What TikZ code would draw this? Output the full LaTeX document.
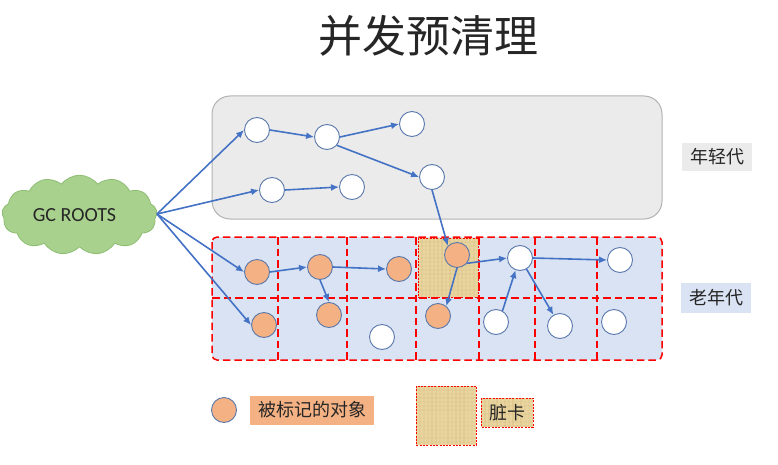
\documentclass[tikz,border=0pt]{standalone}
\usepackage{fontspec}
\usetikzlibrary{shapes.symbols,arrows.meta}
\newfontfamily\cjk{Noto Sans CJK SC}
\newfontfamily\latinfont{Carlito}
\definecolor{linkblue}{HTML}{4472C4}
\definecolor{ringblue}{HTML}{5A78AC}
\definecolor{oldblue}{HTML}{DAE3F3}
\definecolor{markorange}{HTML}{F4B183}
\definecolor{cardtan}{HTML}{E9D5A0}
\definecolor{cardgrain}{HTML}{D2B576}
\definecolor{cloudgreen}{HTML}{A9D18E}
\definecolor{cloudline}{HTML}{8DBD72}
\newcommand{\figuresize}{1pt}
\newcommand{\makecard}[4]{
	\begin{scope}
	\clip (#1,#2) rectangle (#3,#4);
	\fill[cardtan] (#1,#2) rectangle (#3,#4);
	\foreach \i in {0,4,...,60} {
		\pgfmathsetmacro{\grainx}{0.05+0.25*rnd}
		\pgfmathsetmacro{\grainy}{0.03+0.15*rnd}
		\draw[cardgrain, line width=2pt, opacity=\grainx] (#1+\i,#2) -- (#1+\i,#4);
		\draw[cardgrain, line width=2pt, opacity=\grainy] (#1,#2+\i) -- (#3,#2+\i);
	}
	\end{scope}
	\draw[cardline] (#1,#2) rectangle (#3,#4);
}
\tikzset{
	obj/.style={circle, draw=ringblue, line width=0.9pt, fill=white, minimum size=25pt, inner sep=0pt},
	marked/.style={obj, fill=markorange},
	link/.style={draw=linkblue, line width=1.6pt, -{Latex[length=8pt,width=7pt]}},
	celline/.style={draw=red, line width=1.5pt, dash pattern=on 7.5pt off 4pt},
	cardline/.style={draw=red, line width=0.8pt, dash pattern=on 2pt off 1.3pt},
	tag/.style={font=\cjk\fontsize{18}{20}\selectfont, inner sep=0pt, text=black!85},
}

\begin{document}
\begin{tikzpicture}[x=\figuresize,y=-\figuresize]
	\useasboundingbox (0,0) rectangle (778,465);
	\node[font=\cjk\fontsize{44}{50}\selectfont, text=black!85] (title) at (428,36) {并发预清理};

	% young and old areas
	\draw[rounded corners=18pt, fill=black!8, draw=black!30, line width=1pt] (212,96) rectangle (662,219);
	\fill[rounded corners=5pt, oldblue] (212,237) rectangle (662,360);
	\makecard{418}{238}{478}{297}
	\draw[celline, rounded corners=5pt] (212,237) rectangle (662,360);
	\draw[celline] (212,298) -- (662,298);
	\foreach \cellx in {278,347,416,479,535,597} {
		\draw[celline] (\cellx,237) -- (\cellx,360);
	}

	\node[cloud, cloud puffs=13, cloud puff arc=105, aspect=2, draw=cloudline, fill=cloudgreen, line width=0.8pt, minimum width=155pt, minimum height=79pt, inner sep=0pt, font=\latinfont\fontsize{20}{22}\selectfont, text=black!85] (roots) at (79.5,215) {GC ROOTS\kern10pt};

	\node[obj] (Y1) at (257,130) {};
	\node[obj] (Y2) at (327,137) {};
	\node[obj] (Y3) at (412,124) {};
	\node[obj] (Y4) at (432,177) {};
	\node[obj] (Y5) at (272,190) {};
	\node[obj] (Y6) at (352,187) {};

	\node[marked] (M1) at (257,272) {};
	\node[marked] (M2) at (320,267) {};
	\node[marked] (M3) at (399,269) {};
	\node[marked] (M4) at (457,255) {};
	\node[marked] (M5) at (264,325) {};
	\node[marked] (M6) at (329,315) {};
	\node[marked] (M7) at (438,316) {};

	\node[obj] (O1) at (382,337) {};
	\node[obj] (O2) at (520,258) {};
	\node[obj] (O3) at (620,260) {};
	\node[obj] (O4) at (496,322) {};
	\node[obj] (O5) at (560,326) {};
	\node[obj] (O6) at (614,322) {};

	\coordinate (rootsout) at (157,214);
	\draw[link] (rootsout) -- (Y1.west);
	\draw[link] (rootsout) -- (Y5.west);
	\draw[link] (rootsout) -- (M1.west);
	\draw[link] (rootsout) -- (M5.west);
	\draw[link] (Y1.east) -- (Y2.west);
	\draw[link] (Y2.east) -- (Y3.west);
	\draw[link] (Y2.-40) -- (Y4.west);
	\draw[link] (Y5.east) -- (Y6.west);
	\draw[link] (Y4.south) -- (M4.135);
	\draw[link] (M1.east) -- (M2.west);
	\draw[link] (M2.east) -- (M3.west);
	\draw[link] (M2.south) -- (M6.north);
	\draw[link] (M4.south) -- (M7.50);
	\draw[link] (M4.-40) -- (O2.west);
	\draw[link] (O2.east) -- (O3.west);
	\draw[link] (O4.60) -- (O2.-110);
	\draw[link] (O2) -- (O5);

	\node[tag, fill=black!8, minimum width=70pt, minimum height=28pt] (younglabel) at (717,157) {年轻代};
	\node[tag, fill=oldblue, minimum width=70pt, minimum height=30pt] (oldlabel) at (716,298) {老年代};

	% legend
	\node[marked] (legendobj) at (224,410) {};
	\node[tag, fill=markorange, minimum width=124pt, minimum height=29pt] (legendmark) at (312,410) {被标记的对象};
	\makecard{416}{386}{476}{445}
	\makecard{481}{398}{533}{427}
	\node[tag] (legendcard) at (507,412.5) {脏卡};
\end{tikzpicture}
\end{document}
